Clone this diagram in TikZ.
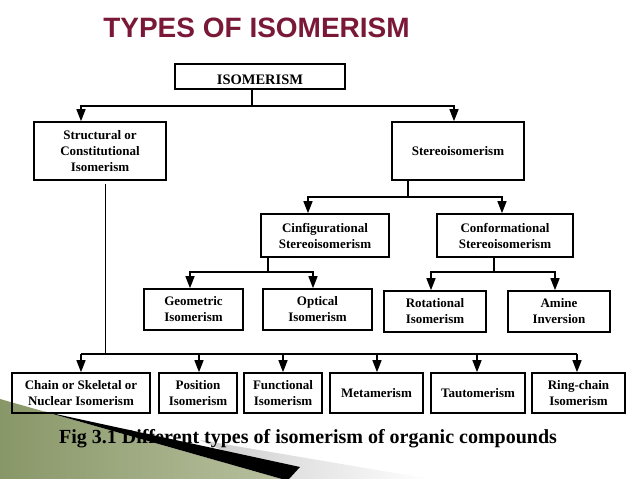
\documentclass[tikz,border=0pt]{standalone}
\usepackage{fontspec}
\setmainfont{Liberation Serif}
\newfontfamily\titlefont{Liberation Sans}
\usetikzlibrary{arrows.meta,calc}
\definecolor{titlered}{RGB}{122,24,56}
\definecolor{olivedark}{RGB}{136,151,104}
\definecolor{olivelight}{RGB}{184,192,158}
\tikzset{
  box/.style={draw, line width=1.6pt, align=center, inner sep=0pt,
    font=\bfseries\fontsize{13}{16}\selectfont},
  conn/.style={line width=1.4pt},
  arr/.style={line width=1.4pt, -{Triangle[length=12pt,width=9pt]}},
}
\newcommand{\boxnode}[6]{% name, x1,y1,x2,y2, text
  \node[box, minimum width={#4-#2}, minimum height={#5-#3}] (#1) at ({(#2+#4)/2},{(#3+#5)/2}) {#6};}
\begin{document}
\begin{tikzpicture}[x=1pt,y=-1pt]
\useasboundingbox (0,0) rectangle (638,479);
\fill[white] (0,0) rectangle (638,479);

% decoration bottom-left
\shade[left color=olivedark, right color=olivelight] (0,399) -- (282,479) -- (0,479) -- cycle;
\shade[left color=gray!40, right color=white] (200,440) -- (430,479) -- (284,479) -- cycle;
\fill[black] (45,411.7) -- (300,467) -- (289,479) -- (282,479) -- cycle;

% title
\node[font=\titlefont\bfseries\fontsize{28}{30}\selectfont, text=titlered, inner sep=0pt] (title) at (256.5,28) {TYPES OF ISOMERISM};

% boxes
\node[box, font=\bfseries\fontsize{14.5}{16}\selectfont, minimum width=170pt, minimum height=25pt] (iso) at (260,76.5) {\raisebox{-8pt}[0pt][0pt]{ISOMERISM}};
\boxnode{struct}{34}{122}{166}{180}{Structural or\\Constitutional\\Isomerism}
\boxnode{stereo}{392}{122}{524}{180}{Stereoisomerism}
\boxnode{config}{261}{214}{389}{257}{Cinfigurational\\Stereoisomerism}
\boxnode{conform}{437}{214}{573}{257}{Conformational\\Stereoisomerism}
\boxnode{geom}{144}{289}{243}{330}{Geometric\\Isomerism}
\boxnode{optical}{263}{289}{372}{330}{Optical\\Isomerism}
\boxnode{rot}{384}{291}{486}{332}{Rotational\\Isomerism}
\boxnode{amine}{508}{291}{610}{332}{Amine\\Inversion}
\boxnode{chain}{12}{373}{150}{413}{Chain or Skeletal or\\Nuclear Isomerism}
\boxnode{pos}{159}{373}{237}{413}{Position\\Isomerism}
\boxnode{func}{244}{373}{322}{413}{Functional\\Isomerism}
\boxnode{meta}{330}{373}{423}{413}{Metamerism}
\boxnode{taut}{431}{373}{525}{413}{Tautomerism}
\boxnode{ring}{532}{373}{625}{413}{Ring-chain\\Isomerism}

% junction coordinates
\coordinate (j1) at (252,106);
\coordinate (j2) at (408,197);
\coordinate (j3) at (268,272);
\coordinate (j4) at (494,272);
\coordinate (j5) at (105,354);
\coordinate (x81) at (81,0);
\coordinate (x454) at (454,0);
\coordinate (x308) at (308,0);
\coordinate (x502) at (502,0);
\coordinate (x190) at (190,0);
\coordinate (x313) at (313,0);
\coordinate (x431) at (431,0);
\coordinate (x555) at (555,0);
\coordinate (x199) at (199,0);
\coordinate (x283) at (283,0);
\coordinate (x377) at (377,0);
\coordinate (x477) at (477,0);
\coordinate (x577) at (577,0);

% level 1
\draw[conn] (iso.south -| j1) -- (j1);
\draw[arr] (j1) -| (struct.north -| x81);
\draw[arr] (j1) -| (stereo.north -| x454);

% stereo
\draw[conn] (stereo.south -| j2) -- (j2);
\draw[arr] (j2) -| (config.north -| x308);
\draw[arr] (j2) -| (conform.north -| x502);

% config
\draw[conn] (config.south -| j3) -- (j3);
\draw[arr] (j3) -| (geom.north -| x190);
\draw[arr] (j3) -| (optical.north -| x313);

% conform
\draw[conn] (conform.south -| j4) -- (j4);
\draw[arr] (j4) -| (rot.north -| x431);
\draw[arr] (j4) -| (amine.north -| x555);

% structural
\draw[line width=0.8pt] ($(struct.south -| j5)+(0,3)$) -- (j5);
\draw[line width=1.1pt] (j5) -- (j5 -| x81);
\draw[line width=1.1pt] (j5) -- (j5 -| x577);
\draw[arr] (j5 -| x81) -- (chain.north -| x81);
\draw[arr] (j5 -| x199) -- (pos.north -| x199);
\draw[arr] (j5 -| x283) -- (func.north -| x283);
\draw[arr] (j5 -| x377) -- (meta.north -| x377);
\draw[arr] (j5 -| x477) -- (taut.north -| x477);
\draw[arr] (j5 -| x577) -- (ring.north -| x577);

% caption
\node[font=\bfseries\fontsize{20}{24}\selectfont, inner sep=0pt, anchor=base] (caption) at (308,443) {Fig 3.1 Different types of isomerism of organic compounds};
\end{tikzpicture}
\end{document}
